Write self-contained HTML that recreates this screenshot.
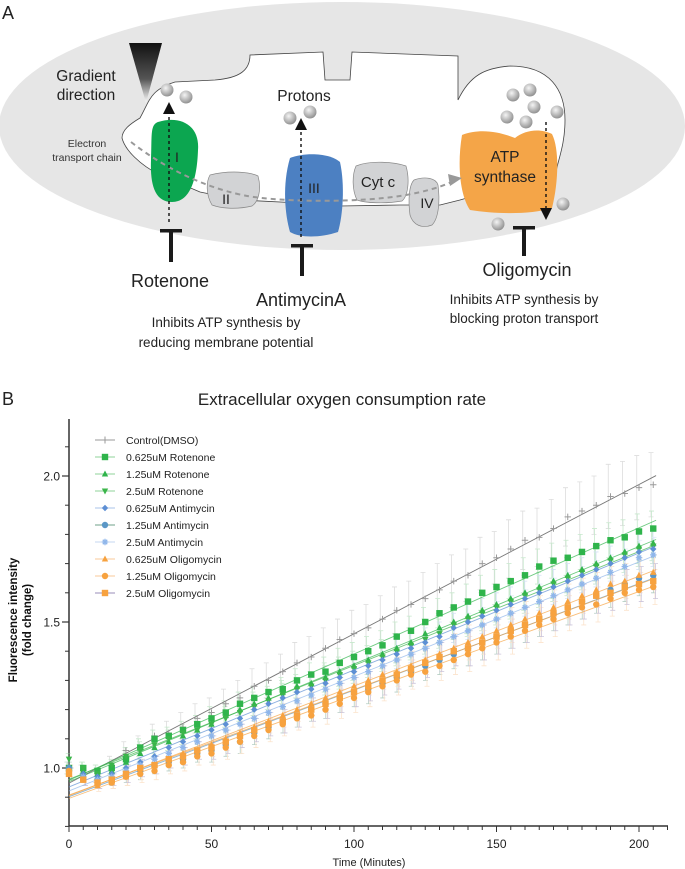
<!DOCTYPE html>
<html><head><meta charset="utf-8"><style>
html,body{margin:0;padding:0;background:#fff;}
svg{display:block;font-family:"Liberation Sans",sans-serif;}
</style></head><body>
<svg id="fig" width="685" height="869" viewBox="0 0 685 869">
<defs>
<linearGradient id="grad" x1="0" y1="0" x2="0" y2="1"><stop offset="0" stop-color="#111"/><stop offset="0.6" stop-color="#555"/><stop offset="1" stop-color="#fff"/></linearGradient>
<radialGradient id="ball" cx="0.4" cy="0.35" r="0.7"><stop offset="0" stop-color="#f4f4f4"/><stop offset="1" stop-color="#8a8a8a"/></radialGradient>
</defs>
<g>
<text x="2" y="19" font-size="18" fill="#222">A</text>
<ellipse cx="342" cy="126" rx="343" ry="124" fill="#e6e6e6"/>
<path d="M140,118 C150,100 150,90 175,82 L215,80 C240,78 250,70 250,55 L323,52 L325,80 L350,80 L352,52 L458,56 L458,100 C470,75 485,68 510,66 C550,66 565,90 565,120 C565,145 558,160 556,172 L460,200 L440,205 L400,205 L340,206 L300,203 L240,200 L200,192 L160,175 C140,165 125,150 122,138 C122,130 130,124 140,118 Z" fill="#fff" stroke="#444" stroke-width="0.8"/>
<polygon points="129,43 162,43 146,103" fill="url(#grad)"/>
<text x="86" y="81" font-size="15.5" text-anchor="middle" fill="#222">Gradient</text>
<text x="86" y="100" font-size="15.5" text-anchor="middle" fill="#222">direction</text>
<text x="87" y="147" font-size="10.5" text-anchor="middle" fill="#333">Electron</text>
<text x="87" y="161" font-size="10.5" text-anchor="middle" fill="#333">transport chain</text>
<path d="M158,122 C180,115 200,125 198,150 C197,180 190,202 172,202 C155,202 150,185 151,160 C152,135 150,125 158,122 Z" fill="#0ca650"/>
<text x="177" y="162" font-size="14" text-anchor="middle" fill="#222">I</text>
<path d="M210,175 C230,170 250,172 258,176 C262,190 258,202 252,206 C235,210 220,208 212,205 C206,195 206,182 210,175 Z" fill="#d2d3d5" stroke="#888" stroke-width="0.7"/>
<text x="226" y="204" font-size="14" text-anchor="middle" fill="#222">II</text>
<path d="M290,158 C305,152 330,153 340,162 C345,185 343,215 338,232 C320,238 300,238 290,232 C285,215 282,185 290,158 Z" fill="#4c80c2"/>
<text x="314" y="193" font-size="14" text-anchor="middle" fill="#222">III</text>
<path d="M356,166 C370,160 395,162 406,166 C410,180 408,196 402,201 C385,204 365,203 357,200 C352,190 352,175 356,166 Z" fill="#d2d3d5" stroke="#888" stroke-width="0.7"/>
<text x="378" y="187" font-size="15" text-anchor="middle" fill="#222">Cyt c</text>
<path d="M414,180 C425,176 436,178 438,185 C440,200 439,218 432,225 C422,229 413,225 410,215 C408,200 409,185 414,180 Z" fill="#d2d3d5" stroke="#888" stroke-width="0.7"/>
<text x="427" y="208" font-size="14" text-anchor="middle" fill="#222">IV</text>
<path d="M462,135 C480,128 500,132 515,138 C525,130 540,128 552,134 C560,150 558,185 552,208 C530,215 495,214 470,210 C460,195 457,165 462,135 Z" fill="#f4a548"/>
<text x="505" y="162" font-size="15.5" text-anchor="middle" fill="#222">ATP</text>
<text x="505" y="182" font-size="15.5" text-anchor="middle" fill="#222">synthase</text>
<path d="M131,142 C180,180 230,195 262,198 C300,202 360,202 400,196 C425,192 445,186 455,180" fill="none" stroke="#999" stroke-width="2" stroke-dasharray="5,4"/>
<polygon points="448,174 462,178 450,186" fill="#999"/>
<g stroke="#111" stroke-width="1.4" stroke-dasharray="3,3" fill="none">
<line x1="169" y1="222" x2="169" y2="112"/>
<line x1="301" y1="237" x2="301" y2="128"/>
<line x1="546" y1="122" x2="546" y2="210"/>
</g>
<polygon points="163,114 169,102 175,114" fill="#111"/>
<polygon points="295,130 301,118 307,130" fill="#111"/>
<polygon points="540,208 546,220 552,208" fill="#111"/>
<g fill="url(#ball)">
<circle cx="167" cy="90" r="6.5"/><circle cx="186" cy="97" r="6.5"/>
<circle cx="290" cy="118" r="6.5"/><circle cx="310" cy="112" r="6.5"/>
<circle cx="513" cy="95" r="6.5"/><circle cx="530" cy="90" r="6.5"/><circle cx="534" cy="107" r="6.5"/><circle cx="557" cy="112" r="6.5"/><circle cx="507" cy="117" r="6.5"/><circle cx="526" cy="122" r="6.5"/><circle cx="563" cy="204" r="6.5"/><circle cx="498" cy="224" r="6.5"/>
</g>
<text x="304" y="101" font-size="15.5" text-anchor="middle" fill="#222">Protons</text>
<g fill="#1a1a1a">
<rect x="160" y="229" width="22" height="3.5"/><rect x="169" y="229" width="4" height="33"/>
<rect x="291" y="244" width="22" height="3.5"/><rect x="300" y="244" width="4" height="32"/>
<rect x="513" y="226" width="22" height="3.5"/><rect x="522" y="226" width="4" height="30"/>
</g>
<text x="170" y="287" font-size="18" text-anchor="middle" fill="#222">Rotenone</text>
<text x="301" y="306" font-size="18" text-anchor="middle" fill="#222">AntimycinA</text>
<text x="527" y="276" font-size="18" text-anchor="middle" fill="#222">Oligomycin</text>
<text x="524" y="304" font-size="13.5" text-anchor="middle" fill="#222">Inhibits ATP synthesis by</text>
<text x="524" y="323" font-size="13.5" text-anchor="middle" fill="#222">blocking proton transport</text>
<text x="226" y="327" font-size="13.5" text-anchor="middle" fill="#222">Inhibits ATP synthesis by</text>
<text x="226" y="347" font-size="13.5" text-anchor="middle" fill="#222">reducing membrane potential</text>
</g>
<g>
<text x="2" y="405" font-size="18" fill="#222">B</text>
<text x="342" y="405" font-size="17" text-anchor="middle" fill="#222">Extracellular oxygen consumption rate</text>
<g id="plot"></g>
</g>
</svg>
<script>
const times=[0,5,10,15,20,25,30,35,40,45,50,55,60,65,70,75,80,85,90,95,100,105,110,115,120,125,130,135,140,145,150,155,160,165,170,175,180,185,190,195,200,205];
const seriesNames=["Control(DMSO)","0.625uM Rotenone","1.25uM Rotenone","2.5uM Rotenone","0.625uM Antimycin","1.25uM Antimycin","2.5uM Antimycin","0.625uM Oligomycin","1.25uM Oligomycin","2.5uM Oligomycin"];
const control=[1.00,0.99,0.98,1.01,1.06,1.07,1.11,1.12,1.14,1.17,1.19,1.22,1.24,1.28,1.30,1.33,1.36,1.38,1.41,1.44,1.46,1.48,1.51,1.54,1.56,1.58,1.61,1.64,1.66,1.70,1.72,1.75,1.78,1.79,1.82,1.86,1.88,1.90,1.93,1.94,1.96,1.97];
const rot0625=[1.00,1.00,0.99,1.00,1.03,1.07,1.10,1.11,1.13,1.15,1.17,1.19,1.22,1.24,1.26,1.27,1.30,1.32,1.33,1.36,1.38,1.40,1.42,1.45,1.47,1.50,1.53,1.55,1.57,1.60,1.62,1.64,1.66,1.69,1.71,1.72,1.74,1.76,1.78,1.79,1.81,1.82];
const rot125=[1.00,0.99,0.98,0.99,1.02,1.05,1.07,1.09,1.11,1.13,1.15,1.18,1.20,1.22,1.24,1.26,1.28,1.29,1.31,1.33,1.35,1.37,1.39,1.41,1.43,1.46,1.48,1.50,1.52,1.54,1.56,1.58,1.60,1.62,1.64,1.66,1.68,1.70,1.72,1.74,1.76,1.77];
const rot25=[1.03,1.00,0.98,1.01,1.04,1.06,1.08,1.10,1.12,1.13,1.15,1.17,1.19,1.21,1.23,1.25,1.27,1.28,1.30,1.32,1.34,1.36,1.38,1.40,1.42,1.44,1.46,1.49,1.51,1.53,1.55,1.57,1.59,1.61,1.63,1.65,1.67,1.69,1.71,1.73,1.75,1.76];
const anti0625=[1.00,0.98,0.97,0.98,1.00,1.02,1.04,1.07,1.09,1.11,1.13,1.15,1.17,1.20,1.22,1.24,1.26,1.27,1.29,1.31,1.33,1.35,1.37,1.39,1.41,1.43,1.45,1.48,1.50,1.52,1.54,1.56,1.58,1.60,1.62,1.64,1.66,1.68,1.70,1.72,1.74,1.75];
const anti125=[1.00,0.97,0.96,0.96,0.98,0.99,1.01,1.02,1.03,1.05,1.06,1.08,1.09,1.12,1.14,1.16,1.18,1.20,1.22,1.24,1.26,1.27,1.29,1.31,1.33,1.35,1.37,1.39,1.41,1.43,1.45,1.47,1.49,1.51,1.53,1.55,1.57,1.59,1.61,1.63,1.65,1.66];
const anti25=[0.99,0.97,0.96,0.97,0.99,1.01,1.03,1.05,1.07,1.09,1.11,1.13,1.15,1.17,1.19,1.21,1.23,1.25,1.27,1.29,1.31,1.33,1.35,1.37,1.39,1.41,1.43,1.45,1.47,1.49,1.51,1.53,1.55,1.57,1.59,1.61,1.63,1.65,1.67,1.69,1.72,1.73];
const oligo0625=[0.98,0.96,0.94,0.95,0.97,0.99,1.01,1.03,1.05,1.06,1.08,1.10,1.12,1.14,1.16,1.18,1.20,1.22,1.24,1.26,1.28,1.30,1.32,1.33,1.35,1.37,1.39,1.41,1.43,1.45,1.47,1.49,1.51,1.53,1.55,1.57,1.59,1.61,1.63,1.64,1.66,1.67];
const oligo125=[0.99,0.96,0.95,0.95,0.97,0.98,0.99,1.01,1.02,1.04,1.05,1.07,1.09,1.11,1.13,1.15,1.17,1.18,1.20,1.22,1.24,1.26,1.28,1.30,1.32,1.33,1.35,1.37,1.39,1.41,1.43,1.45,1.47,1.49,1.51,1.53,1.55,1.56,1.58,1.60,1.61,1.62];
const oligo25=[0.98,0.96,0.95,0.96,0.98,1.00,1.01,1.03,1.04,1.06,1.07,1.09,1.11,1.13,1.15,1.16,1.18,1.20,1.22,1.24,1.26,1.28,1.30,1.32,1.34,1.36,1.38,1.40,1.41,1.43,1.45,1.47,1.49,1.51,1.53,1.55,1.57,1.59,1.60,1.62,1.63,1.64];
const controlErr=[0.02,0.02,0.03,0.03,0.03,0.04,0.04,0.04,0.05,0.05,0.05,0.05,0.06,0.06,0.06,0.06,0.07,0.07,0.07,0.07,0.08,0.08,0.08,0.08,0.08,0.09,0.09,0.09,0.09,0.09,0.09,0.1,0.1,0.1,0.1,0.1,0.1,0.1,0.11,0.11,0.11,0.11];
const treatErr=[0.02,0.02,0.02,0.02,0.03,0.03,0.03,0.03,0.03,0.03,0.04,0.04,0.04,0.04,0.04,0.04,0.04,0.04,0.05,0.05,0.05,0.05,0.05,0.05,0.05,0.05,0.05,0.05,0.06,0.06,0.06,0.06,0.06,0.06,0.06,0.06,0.06,0.06,0.06,0.06,0.06,0.06];
const yTicks=[1.0,1.5,2.0];
const xTicks=[0,50,100,150,200];

const allSeries=[control,rot0625,rot125,rot25,anti0625,anti125,anti25,oligo0625,oligo125,oligo25];
const colors=["#9a9a9a","#2fb44b","#2fb44b","#3bb54a","#5d8fd4","#5b97c6","#8fb6ea","#f7a23f","#f7a23f","#f7a23f"];
const lineColors=["#999","#8fd39a","#8fd39a","#8fd39a","#a9c3ea","#6fa08a","#c4d7f2","#f8c99a","#f8c99a","#9a8cb8"];
const shapes=["plus","square","tri","tridown","diamond","circle","star","tri","circle","square"];
const X0=69,X1=668,Y0=826,Y1=419;
function xs(t){return X0+(t-0)*(639-69)/200;}
function ys(v){return 768-(v-1.0)*292;}
const NS="http://www.w3.org/2000/svg";
const plot=document.getElementById('plot');
function mk(tag,attrs,parent){const e=document.createElementNS(NS,tag);for(const k in attrs)e.setAttribute(k,attrs[k]);(parent||plot).appendChild(e);return e;}
function marker(shape,x,y,c,parent,s){
  s=s||3.2;let e;
  if(shape==="plus"){e=mk('path',{d:`M${x-s},${y}H${x+s}M${x},${y-s}V${y+s}`,stroke:c,'stroke-width':1,fill:'none'},parent);}
  else if(shape==="square"){e=mk('rect',{x:x-s,y:y-s,width:2*s,height:2*s,fill:c},parent);}
  else if(shape==="tri"){e=mk('polygon',{points:`${x-s},${y+s*0.8} ${x+s},${y+s*0.8} ${x},${y-s*1.1}`,fill:c},parent);}
  else if(shape==="tridown"){e=mk('polygon',{points:`${x-s},${y-s*0.8} ${x+s},${y-s*0.8} ${x},${y+s*1.1}`,fill:c},parent);}
  else if(shape==="diamond"){e=mk('polygon',{points:`${x},${y-s} ${x+s},${y} ${x},${y+s} ${x-s},${y}`,fill:c},parent);}
  else if(shape==="circle"){e=mk('circle',{cx:x,cy:y,r:s,fill:c},parent);}
  else {e=mk('path',{d:`M${x-s},${y}H${x+s}M${x},${y-s}V${y+s}M${x-s*0.7},${y-s*0.7}L${x+s*0.7},${y+s*0.7}M${x+s*0.7},${y-s*0.7}L${x-s*0.7},${y+s*0.7}`,stroke:c,'stroke-width':1.3},parent);}
  return e;
}
const ax=mk('g',{});


const yAxis=mk('line',{x1:X0,y1:Y1,x2:X0,y2:Y0,stroke:'#333','stroke-width':1.5},ax);


const xAxis=mk('line',{x1:X0,y1:Y0,x2:X1,y2:Y0,stroke:'#333','stroke-width':1.5},ax);


for(let v=0.8;v<=2.15;v+=0.1){const y=ys(v);mk('line',{x1:X0-4,y1:y,x2:X0,y2:y,stroke:'#333','stroke-width':1},ax);}
yTicks.forEach(v=>{const y=ys(v);mk('line',{x1:X0-7,y1:y,x2:X0,y2:y,stroke:'#333','stroke-width':1.2},ax);
  const t=mk('text',{x:X0-9,y:y+4.5,'font-size':12,'text-anchor':'end',fill:'#222'},ax);t.textContent=v.toFixed(1);
  
  });
for(let m=0;m<=210;m+=5){const x=xs(m);mk('line',{x1:x,y1:Y0,x2:x,y2:Y0+(m%50===0?6:4),stroke:'#333','stroke-width':1},ax);}
xTicks.forEach(m=>{const t=mk('text',{x:xs(m),y:848,'font-size':12,'text-anchor':'middle',fill:'#222'},ax);t.textContent=m;
  
  });
const xt=mk('text',{x:369,y:866,'font-size':11,'text-anchor':'middle',fill:'#222'},ax);xt.textContent='Time (Minutes)';


const yt=mk('text',{transform:'translate(17,620) rotate(-90)','font-size':11.5,'font-weight':'bold','text-anchor':'middle',fill:'#111'},ax);yt.textContent='Fluorescence intensity';


const yt2=mk('text',{transform:'translate(31,620) rotate(-90)','font-size':11.5,'font-weight':'bold','text-anchor':'middle',fill:'#111'},ax);yt2.textContent='(fold change)';


const eg=mk('g',{opacity:0.5});


allSeries.forEach((s,i)=>{const err=i===0?controlErr:treatErr;
  s.forEach((v,j)=>{const x=xs(times[j])+(i-4.5)*0.5;mk('path',{d:`M${x},${ys(v-err[j])}V${ys(v+err[j])}M${x-2.5},${ys(v-err[j])}H${x+2.5}M${x-2.5},${ys(v+err[j])}H${x+2.5}`,stroke:i===0?'#bbb':lineColors[i],'stroke-width':0.8,fill:'none'},eg);});});
allSeries.forEach((s,i)=>{const n=s.length;let sx=0,sy=0,sxx=0,sxy=0;
  s.forEach((v,j)=>{const t=times[j];sx+=t;sy+=v;sxx+=t*t;sxy+=t*v;});
  const b=(n*sxy-sx*sy)/(n*sxx-sx*sx),a=(sy-b*sx)/n;
  const l=mk('line',{x1:xs(0),y1:ys(a),x2:xs(206),y2:ys(a+b*206),stroke:i===0?'#777':colors[i],'stroke-width':0.9,opacity:i===0?1:0.7});
  
  });
allSeries.forEach((s,i)=>{const g=mk('g',{});
  
  
  s.forEach((v,j)=>{const p=marker(shapes[i],xs(times[j]),ys(v),colors[i],g);
    
    });});
const lg=mk('g',{});


seriesNames.forEach((nm,i)=>{const y=440+i*17;const e=mk('g',{},lg);
  
  
  mk('line',{x1:95,y1:y,x2:115,y2:y,stroke:lineColors[i],'stroke-width':1},e);
  marker(shapes[i],105,y,colors[i],e,i===0?3.5:3.2);
  const t=mk('text',{x:126,y:y+4,'font-size':10.5,fill:'#222'},e);t.textContent=nm;});
</script>
</body></html>
